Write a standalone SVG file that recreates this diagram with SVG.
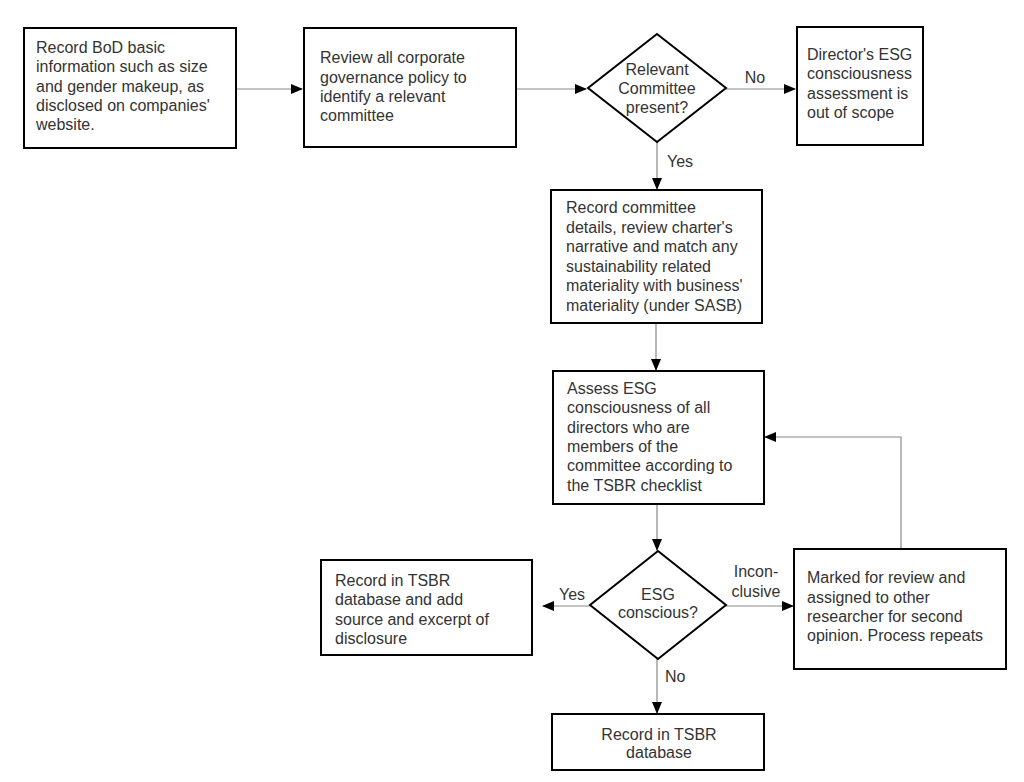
<svg xmlns="http://www.w3.org/2000/svg" width="1024" height="782" viewBox="0 0 1024 782">
<defs>
<style>
.box{fill:#fff;stroke:#000;stroke-width:2}
.t{font-family:"Liberation Sans",Arial,sans-serif;font-size:16px;fill:#333}
.c{text-anchor:middle}
.ln{fill:none;stroke:#888;stroke-width:1.2}
</style>
<marker id="ah" markerWidth="12" markerHeight="10" refX="11" refY="5" orient="auto" markerUnits="userSpaceOnUse">
<path d="M0,0 L12,5 L0,10 Z" fill="#000"/>
</marker>
</defs>
<rect width="1024" height="782" fill="#fff"/>
<g id="connectors">
<line class="ln" x1="236" y1="89" x2="302" y2="89" marker-end="url(#ah)"/>
<line class="ln" x1="516" y1="89" x2="586" y2="89" marker-end="url(#ah)"/>
<line class="ln" x1="726" y1="89" x2="795" y2="89" marker-end="url(#ah)"/>
<text class="t c" x="755" y="83">No</text>
<line class="ln" x1="657" y1="142" x2="657" y2="189" marker-end="url(#ah)"/>
<text class="t" x="667" y="167">Yes</text>
<line class="ln" x1="656" y1="323" x2="656" y2="370" marker-end="url(#ah)"/>
<line class="ln" x1="657" y1="504" x2="657" y2="550" marker-end="url(#ah)"/>
<line class="ln" x1="590" y1="606" x2="543" y2="606" marker-end="url(#ah)"/>
<text class="t c" x="572" y="600">Yes</text>
<line class="ln" x1="726" y1="606" x2="793" y2="606" marker-end="url(#ah)"/>
<text class="t c" x="756" y="577">Incon-</text>
<text class="t c" x="756" y="597">clusive</text>
<line class="ln" x1="657" y1="659" x2="657" y2="713" marker-end="url(#ah)"/>
<text class="t" x="665" y="682">No</text>
<polyline class="ln" points="901,549 901,437 765,437" marker-end="url(#ah)"/>
</g>
<g id="n1">
<rect class="box" x="24" y="28" width="212" height="120"/>
<text class="t" x="36" y="53">Record BoD basic</text>
<text class="t" x="36" y="72">information such as size</text>
<text class="t" x="36" y="92">and gender makeup, as</text>
<text class="t" x="36" y="111">disclosed on companies'</text>
<text class="t" x="36" y="130">website.</text>
</g>
<g id="n2">
<rect class="box" x="304" y="28" width="212" height="119"/>
<text class="t" x="320" y="63">Review all corporate</text>
<text class="t" x="320" y="83">governance policy to</text>
<text class="t" x="320" y="102">identify a relevant</text>
<text class="t" x="320" y="121">committee</text>
</g>
<g id="d1">
<polygon class="box" points="657,34 726,88 657,142 588,88"/>
<text class="t c" x="657" y="75">Relevant</text>
<text class="t c" x="657" y="94">Committee</text>
<text class="t c" x="657" y="113">present?</text>
</g>
<g id="n3">
<rect class="box" x="797" y="27" width="126" height="118"/>
<text class="t" x="807" y="60">Director's ESG</text>
<text class="t" x="807" y="79">consciousness</text>
<text class="t" x="807" y="99">assessment is</text>
<text class="t" x="807" y="118">out of scope</text>
</g>
<g id="n4">
<rect class="box" x="551" y="190" width="211" height="133"/>
<text class="t" x="566" y="213">Record committee</text>
<text class="t" x="566" y="233">details, review charter's</text>
<text class="t" x="566" y="252">narrative and match any</text>
<text class="t" x="566" y="272">sustainability related</text>
<text class="t" x="566" y="291">materiality with business'</text>
<text class="t" x="566" y="311">materiality (under SASB)</text>
</g>
<g id="n5">
<rect class="box" x="553" y="371" width="211" height="133"/>
<text class="t" x="567" y="394">Assess ESG</text>
<text class="t" x="567" y="413">consciousness of all</text>
<text class="t" x="567" y="433">directors who are</text>
<text class="t" x="567" y="452">members of the</text>
<text class="t" x="567" y="471">committee according to</text>
<text class="t" x="567" y="491">the TSBR checklist</text>
</g>
<g id="d2">
<polygon class="box" points="658,551 726,605 658,659 590,605"/>
<text class="t c" x="658" y="600">ESG</text>
<text class="t c" x="658" y="618">conscious?</text>
</g>
<g id="n6">
<rect class="box" x="321" y="560" width="211" height="95"/>
<text class="t" x="335" y="586">Record in TSBR</text>
<text class="t" x="335" y="605">database and add</text>
<text class="t" x="335" y="625">source and excerpt of</text>
<text class="t" x="335" y="644">disclosure</text>
</g>
<g id="n7">
<rect class="box" x="794" y="549" width="212" height="120"/>
<text class="t" x="807" y="583">Marked for review and</text>
<text class="t" x="807" y="603">assigned to other</text>
<text class="t" x="807" y="622">researcher for second</text>
<text class="t" x="807" y="641">opinion. Process repeats</text>
</g>
<g id="n8">
<rect class="box" x="552" y="714" width="212" height="56"/>
<text class="t c" x="659" y="740">Record in TSBR</text>
<text class="t c" x="659" y="758">database</text>
</g>
</svg>
